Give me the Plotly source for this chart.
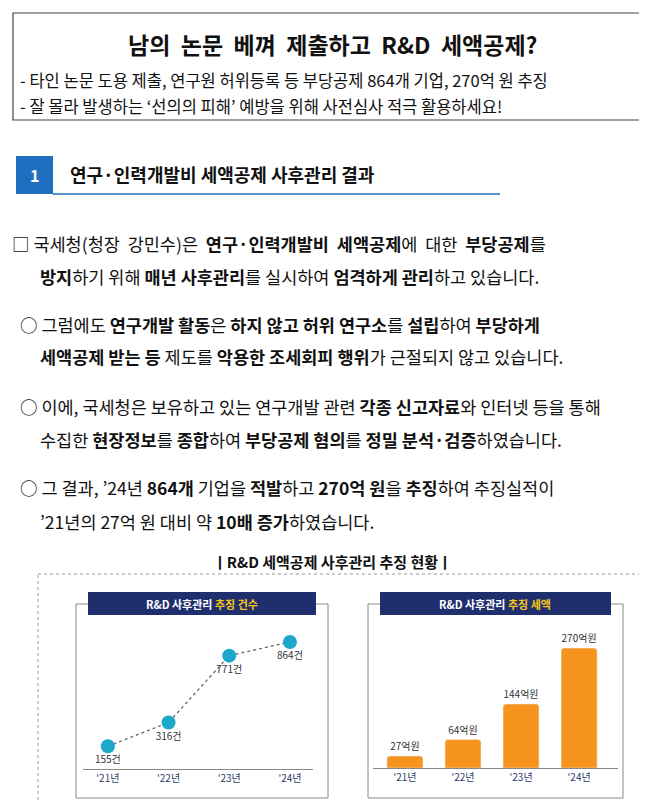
import plotly.graph_objects as go

years = ["'21년", "'22년", "'23년", "'24년"]
cases = [155, 316, 771, 864]
case_labels = ["155건", "316건", "771건", "864건"]
amounts = [27, 64, 144, 270]
amount_labels = ["27억원", "64억원", "144억원", "270억원"]

W, H = 647, 803
def px(x): return x / W
def py(y): return 1 - y / H
F = "Noto Sans CJK KR"

fig = go.Figure()
fig.add_trace(go.Scatter(x=[0, 1, 2, 3], y=cases, mode="lines+markers+text", text=case_labels,
    textposition="bottom center", textfont=dict(size=10, color="#333", family=F),
    line=dict(color="#666", dash="dot", width=1.3), marker=dict(size=14, color="#1BA8C9"),
    xaxis="x", yaxis="y", cliponaxis=False, showlegend=False))
fig.add_trace(go.Bar(x=[0, 1, 2, 3], y=amounts, text=amount_labels, textposition="outside",
    textfont=dict(size=10, color="#333", family=F), marker=dict(color="#F7941D", cornerradius=3),
    width=0.62, xaxis="x2", yaxis="y2", cliponaxis=False, showlegend=False))

ax = dict(showgrid=False, zeroline=False, tickmode="array", tickvals=[0, 1, 2, 3], ticktext=years,
          tickfont=dict(size=10, color="#2b3a67", family=F), showline=True, linecolor="#888", ticks="")
fig.update_layout(
    width=W, height=H, margin=dict(l=0, r=0, t=0, b=0), plot_bgcolor="white", paper_bgcolor="white",
    xaxis=dict(ax, domain=[px(75), px(305)], range=[-0.41, 3.38], anchor="y"),
    yaxis=dict(domain=[py(761), py(620)], range=[0, 959], visible=False),
    xaxis2=dict(ax, domain=[px(365), px(610)], range=[-0.55, 3.67], anchor="y2"),
    yaxis2=dict(domain=[py(760), py(625)], range=[0, 304], visible=False),
    font=dict(family=F),
)

shapes = []
shapes.append(dict(type="rect", xref="paper", yref="paper", x0=px(5), x1=px(643), y0=py(5), y1=py(112),
                   line=dict(color="#444", width=1.2)))
shapes.append(dict(type="rect", xref="paper", yref="paper", x0=px(8), x1=px(45), y0=py(148), y1=py(186),
                   fillcolor="#1F6FC0", line=dict(width=0)))
shapes.append(dict(type="line", xref="paper", yref="paper", x0=px(45), x1=px(492), y0=py(186), y1=py(186),
                   line=dict(color="#1F6FC0", width=1.5)))
shapes.append(dict(type="rect", xref="paper", yref="paper", x0=px(30), x1=px(632), y0=py(566), y1=py(800),
                   line=dict(color="#999", width=1, dash="dot")))
for x0, x1 in [(68, 320), (360, 615)]:
    shapes.append(dict(type="rect", xref="paper", yref="paper", x0=px(x0), x1=px(x1), y0=py(596), y1=py(790),
                       line=dict(color="#888", width=1)))
    shapes.append(dict(type="rect", xref="paper", yref="paper", x0=px(x0 + 12), x1=px(x1 - 12), y0=py(584), y1=py(607),
                       fillcolor="#1F2F6E", line=dict(width=0)))
fig.update_layout(shapes=shapes)

ann = []
def A(x, y, t, size=15, anchor="left", color="#111"):
    ann.append(dict(x=px(x), y=py(y), xref="paper", yref="paper", text=t, showarrow=False,
                    xanchor=anchor, yanchor="middle", font=dict(size=size, color=color, family=F)))
A(324, 36, "<b>남의  논문  베껴  제출하고  R&D  세액공제?</b>", 23, "center")
A(10, 72, "- 타인 논문 도용 제출, 연구원 허위등록 등 부당공제 864개 기업, 270억 원 추징", 16.5)
A(10, 98, "- 잘 몰라 발생하는 ‘선의의 피해’ 예방을 위해 사전심사 적극 활용하세요!", 16.5)
A(26.5, 167, "<b>1</b>", 16, "center", "white")
A(60, 166, "<b>연구·인력개발비 세액공제 사후관리 결과</b>", 18)
lines = [
 (235, 2, "□ 국세청(청장  강민수)은  <b>연구·인력개발비  세액공제</b>에  대한  <b>부당공제</b>를"),
 (268, 30, "<b>방지</b>하기 위해 <b>매년 사후관리</b>를 실시하여 <b>엄격하게 관리</b>하고 있습니다."),
 (316, 10, "○ 그럼에도 <b>연구개발 활동</b>은 <b>하지 않고 허위 연구소</b>를 <b>설립</b>하여 <b>부당하게</b>"),
 (349, 30, "<b>세액공제 받는 등</b> 제도를 <b>악용한 조세회피 행위</b>가 근절되지 않고 있습니다."),
 (398, 10, "○ 이에, 국세청은 보유하고 있는 연구개발 관련 <b>각종 신고자료</b>와 인터넷 등을 통해"),
 (431, 30, "수집한 <b>현장정보</b>를 <b>종합</b>하여 <b>부당공제 혐의</b>를 <b>정밀 분석·검증</b>하였습니다."),
 (480, 10, "○ 그 결과, ’24년 <b>864개</b> 기업을 <b>적발</b>하고 <b>270억 원</b>을 <b>추징</b>하여 추징실적이"),
 (513, 30, "’21년의 27억 원 대비 약 <b>10배 증가</b>하였습니다."),
]
for y, x, t in lines:
    A(x, y, t, 17.5)
A(324, 553, "<b>ㅣR&D 세액공제 사후관리 추징 현황ㅣ</b>", 15, "center")
A(194, 596, "<b>R&D 사후관리 <span style='color:#F5C518'>추징 건수</span></b>", 11, "center", "white")
A(487, 596, "<b>R&D 사후관리 <span style='color:#F5C518'>추징 세액</span></b>", 11, "center", "white")
fig.update_layout(annotations=ann)
fig.write_html("out.html")
